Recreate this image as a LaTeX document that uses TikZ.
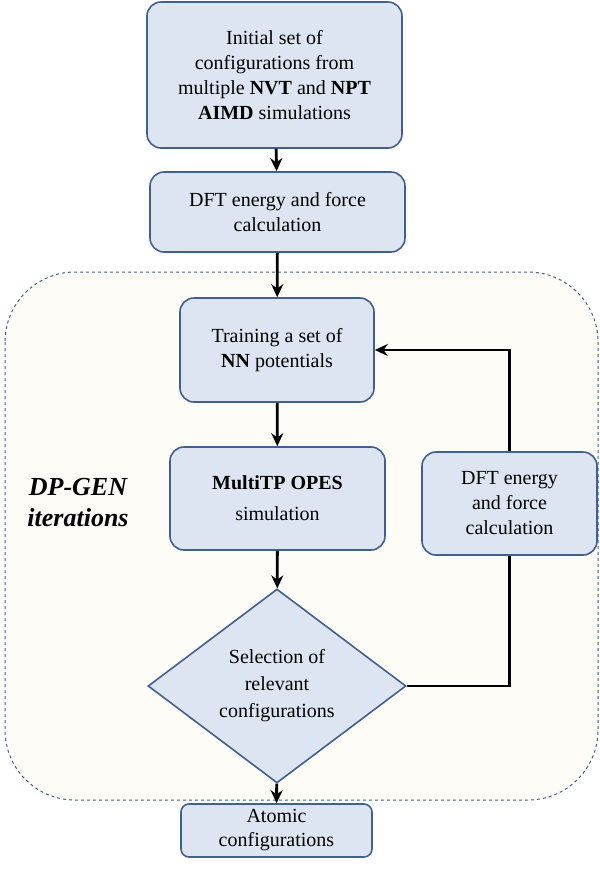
\documentclass[tikz,border=0pt]{standalone}
\usepackage{fontspec}
\setmainfont{Liberation Serif}
\usetikzlibrary{shapes.geometric,arrows.meta}
\definecolor{bfill}{HTML}{DCE5F1}
\definecolor{bdraw}{HTML}{41608F}
\definecolor{regfill}{HTML}{FDFCF6}
\tikzset{
 box/.style={draw=bdraw,line width=1.6pt,fill=bfill,rounded corners=14pt,align=center,font=\fontsize{20}{25}\selectfont},
 arr/.style={line width=2.8pt,-{Stealth[length=13pt,width=12pt]}},
 ln/.style={line width=2.8pt}
}
\begin{document}
\begin{tikzpicture}[x=1pt,y=-1pt]
\useasboundingbox (0,0) rectangle (600,871);
\draw[bdraw,dashed,line width=1pt,fill=regfill,rounded corners=70pt] (5,272) rectangle (598,800);
\node[box,minimum width=255pt,minimum height=146pt] (init) at (274.5,75) {Initial set of\\configurations from\\multiple \textbf{NVT} and \textbf{NPT}\\\textbf{AIMD} simulations};
\node[box,minimum width=255pt,minimum height=80pt] (dft) at (277.5,212) {DFT energy and force\\calculation};
\node[box,minimum width=194pt,minimum height=104pt] (train) at (277,350) {Training a set of\\\textbf{NN} potentials};
\node[box,minimum width=215pt,minimum height=103pt] (opes) at (277.5,498.5) {\textbf{MultiTP OPES}\\[6pt]simulation};
\node[box,minimum width=175pt,minimum height=103pt] (dft2) at (509.5,503.5) {DFT energy\\and force\\calculation};
\node[draw=bdraw,line width=1.6pt,fill=bfill,diamond,aspect=1.33,inner sep=0pt,minimum width=258pt,minimum height=194pt,align=center,font=\fontsize{20}{27}\selectfont] (sel) at (277,686) {Selection of\\relevant\\configurations};
\node[box,rounded corners=8pt,minimum width=191pt,minimum height=53pt,font=\fontsize{20}{24}\selectfont] (atom) at (276.5,830.5) {Atomic\\configurations};
\node[font=\fontsize{26}{31}\selectfont\bfseries\itshape,align=center] (lab) at (78,503) {DP-GEN\\iterations};
\draw[arr] (init) -- (dft);
\draw[arr] (dft) -- (train);
\draw[arr] (train) -- (opes);
\draw[arr] (opes) -- (sel);
\draw[arr] (sel) -- (atom);
\draw[ln] (sel.east) -| (dft2.south);
\draw[arr] (dft2.north) |- (train.east);
\end{tikzpicture}
\end{document}
